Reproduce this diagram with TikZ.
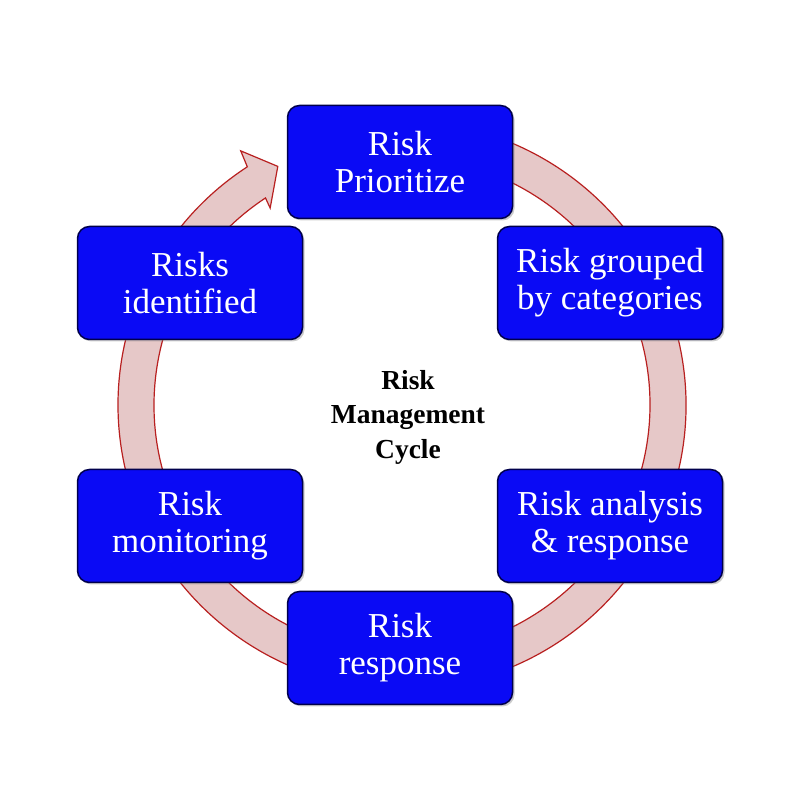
\documentclass[tikz,border=0pt]{standalone}
\usepackage{fontspec}
\setmainfont{Liberation Serif}
\usetikzlibrary{shadows}
\definecolor{ringfill}{HTML}{E6C8C8}
\definecolor{ringline}{HTML}{B82020}
\definecolor{boxblue}{HTML}{0A0AF5}
\begin{document}
\begin{tikzpicture}[x=1pt,y=1pt,
  stage/.style={draw=black!70!blue, line width=1.5pt, fill=boxblue, rounded corners=12pt,
    minimum width=225pt, minimum height=113pt, align=center, text=white,
    font=\fontsize{35}{37}\selectfont, drop shadow={shadow xshift=2pt, shadow yshift=-2pt, opacity=0.4}},
  ring/.style={fill=ringfill, draw=ringline, line width=1.2pt}]
\useasboundingbox (0,0) rectangle (800,800);
\fill[white] (0,0) rectangle (800,800);
\coordinate (c) at (402,395);
\draw[ring] ([shift={(100:284)}]c) arc (100:-237:284) -- ([shift={(-237.6:301)}]c) -- ([shift={(-242.5:269)}]c) -- ([shift={(-236.2:237)}]c) -- ([shift={(-236.6:248)}]c) arc (-236.6:100:248) -- cycle;
\node[stage] (p) at (400,638) {Risk\\Prioritize};
\node[stage] (g) at (610,517) {Risk grouped\\by categories};
\node[stage] (a) at (610,274) {Risk analysis\\\& response};
\node[stage] (r) at (400,152) {Risk\\response};
\node[stage] (m) at (190,274) {Risk\\monitoring};
\node[stage] (i) at (190,517) {Risks\\identified};
\node[align=center, font=\bfseries\fontsize{27.5}{34.5}\selectfont] (t) at (408,383) {Risk\\Management\\Cycle};
\end{tikzpicture}
\end{document}
